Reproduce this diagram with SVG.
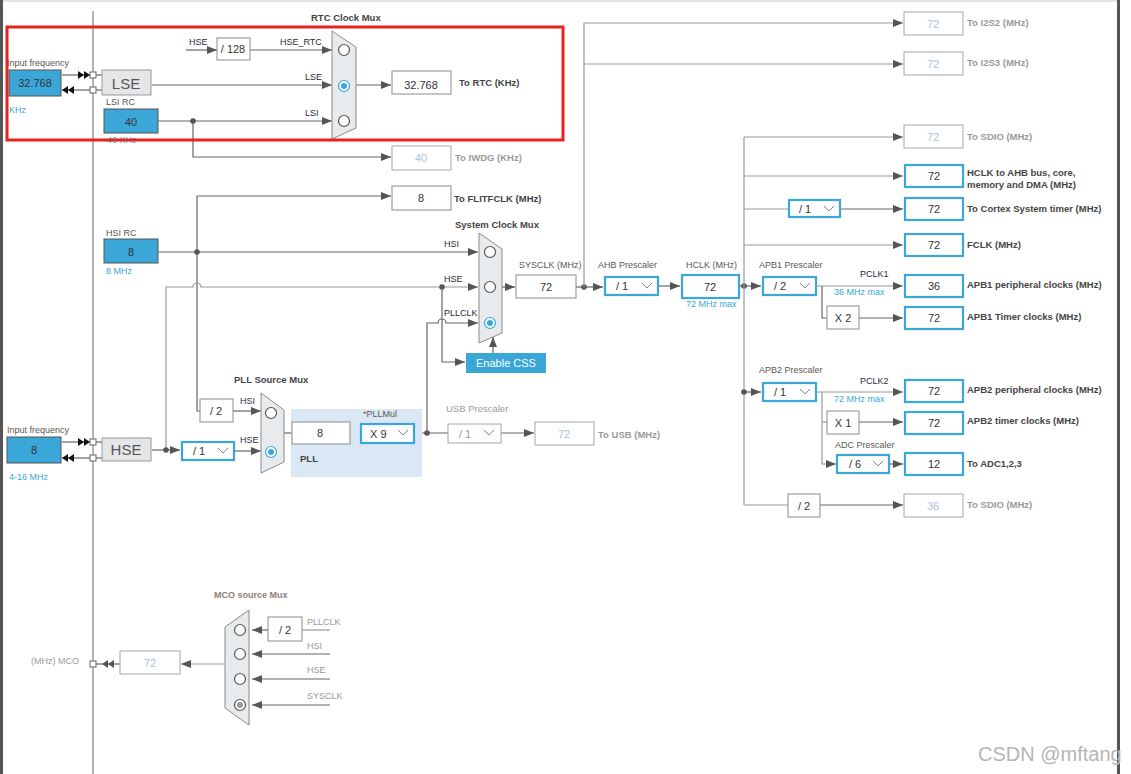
<svg xmlns="http://www.w3.org/2000/svg" width="1131" height="774" viewBox="0 0 1131 774">
<defs>
<marker id="ah" markerWidth="10" markerHeight="8" refX="10" refY="4" orient="auto" markerUnits="userSpaceOnUse"><path d="M0,0 L10,4 L0,8 z" fill="#555"/></marker>
</defs>
<style>
.ln{stroke:#666;stroke-width:1.2;fill:none}
.lnd{stroke:#999;stroke-width:1.2;fill:none}
.t{font-family:"Liberation Sans",Arial,sans-serif}
.lbl{font-size:9px;fill:#5c5753}
.sig{font-size:9px;fill:#1f2b3a}
.b{font-weight:bold;font-size:9.5px;fill:#444}
.bd{font-weight:bold;font-size:9.5px;fill:#9a9a9a}
.num{font-size:11px;fill:#333;text-anchor:middle}
.numd{font-size:11px;fill:#aec3dc;text-anchor:middle}
.box{fill:#fff;stroke:#8c8c8c;stroke-width:1}
.boxd{fill:#fff;stroke:#a6a6a6;stroke-width:1}
.bbox{fill:#fff;stroke:#3aa7d8;stroke-width:2.2}
.blue{fill:#3aa7d8;stroke:#555;stroke-width:1}
.gbox{fill:#e4e6e8;stroke:#999;stroke-width:1}
.blt{font-size:9px;fill:#3aa7d8}
.mux{fill:#e8ebee;stroke:#8a8a8a;stroke-width:1}
.c{fill:#fff;stroke:#555;stroke-width:1.2}
.cs{fill:#fff;stroke:#3aa7d8;stroke-width:1.2}
.dot{fill:#555}
.chev{fill:none;stroke:#888;stroke-width:1}
.dbl{fill:#111}
.sq{fill:#fff;stroke:#666;stroke-width:1}
</style>
<rect width="1131" height="774" fill="#fff"/>
<g id="frame">
<rect x="0" y="0" width="1120" height="2" fill="#e2e2e2"/>
<rect x="0" y="0" width="3" height="774" fill="#555"/>
<rect x="1117" y="0" width="3" height="774" fill="#555"/>
<line x1="93" y1="11" x2="93" y2="774" stroke="#666" stroke-width="1"/>
</g>

<g id="connectors">
<line class="ln" x1="62" y1="75" x2="90" y2="75" stroke="#222"/>
<polygon class="dbl" points="78,71 84,75 78,79"/><polygon class="dbl" points="84,71 90,75 84,79"/>
<line class="ln" x1="62" y1="90" x2="90" y2="90" stroke="#222"/>
<polygon class="dbl" points="68,86 62,90 68,94"/><polygon class="dbl" points="74,86 68,90 74,94"/>
<line class="ln" x1="96" y1="75" x2="102" y2="75"/>
<line class="ln" x1="96" y1="90" x2="102" y2="90"/>
<line class="ln" x1="186" y1="50" x2="217" y2="50" marker-end="url(#ah)"/>
<line class="ln" x1="250" y1="50" x2="332" y2="50" marker-end="url(#ah)"/>
<line class="ln" x1="152" y1="85" x2="332" y2="85" marker-end="url(#ah)"/>
<line class="ln" x1="158" y1="121" x2="332" y2="121" marker-end="url(#ah)"/>
<path class="ln" d="M193,121 V157 H391" marker-end="url(#ah)"/>
<circle class="dot" cx="193" cy="121" r="2.8"/>
<line class="ln" x1="356" y1="85" x2="391" y2="85" marker-end="url(#ah)"/>
<line class="ln" x1="158" y1="252" x2="478" y2="252" marker-end="url(#ah)"/>
<path class="ln" d="M197,252 V196 H391" marker-end="url(#ah)"/>
<path class="ln" d="M197,252 V411 H200"/>
<circle class="dot" cx="197" cy="252" r="2.8"/>
<line class="ln" x1="233" y1="411" x2="261" y2="411" marker-end="url(#ah)"/>
<line class="ln" x1="152" y1="450" x2="180" y2="450" marker-end="url(#ah)"/>
<path class="lnd" d="M166,450 V287 H193 A4,4 0 0 1 201,287 H478" marker-end="url(#ah)"/>
<circle class="dot" cx="166" cy="450" r="2.8"/>
<circle class="dot" cx="442" cy="287" r="2.8"/>
<path class="ln" d="M442,287 V362 H465" marker-end="url(#ah)"/>
<line class="ln" x1="234" y1="451" x2="261" y2="451" marker-end="url(#ah)"/>
<line class="ln" x1="284" y1="433" x2="291" y2="433"/>
<line class="ln" x1="350" y1="433" x2="361" y2="433"/>
<line class="ln" x1="414" y1="433" x2="448" y2="433"/>
<circle class="dot" cx="427" cy="433" r="2.8"/>
<path class="ln" d="M427,433 V323 H438 A4,4 0 0 1 446,323 H478" marker-end="url(#ah)"/>
<line class="ln" x1="501" y1="433" x2="534" y2="433" marker-end="url(#ah)"/>
<line class="ln" x1="493" y1="353" x2="493" y2="337" marker-end="url(#ah)"/>
<line class="ln" x1="502" y1="287" x2="515" y2="287" marker-end="url(#ah)"/>
<line class="ln" x1="576" y1="287" x2="603" y2="287" marker-end="url(#ah)"/>
<circle class="dot" cx="584" cy="287" r="2.8"/>
<path class="lnd" d="M584,287 V23 H903" marker-end="url(#ah)"/>
<line class="lnd" x1="584" y1="64" x2="903" y2="64" marker-end="url(#ah)"/>
<line class="ln" x1="658" y1="286" x2="680" y2="286" marker-end="url(#ah)"/>
<line class="ln" x1="739" y1="286" x2="761" y2="286" marker-end="url(#ah)"/>
<circle class="dot" cx="744" cy="286" r="2.8"/>
<line class="lnd" x1="744" y1="137" x2="744" y2="505"/>
<line class="lnd" x1="744" y1="137" x2="903" y2="137" marker-end="url(#ah)"/>
<line class="lnd" x1="744" y1="176" x2="903" y2="176" marker-end="url(#ah)"/>
<line class="lnd" x1="744" y1="209" x2="788" y2="209"/>
<line class="ln" x1="840" y1="209" x2="903" y2="209" marker-end="url(#ah)"/>
<line class="lnd" x1="744" y1="245" x2="903" y2="245" marker-end="url(#ah)"/>
<line class="ln" x1="744" y1="392" x2="761" y2="392" marker-end="url(#ah)"/>
<circle class="dot" cx="744" cy="392" r="2.8"/>
<line class="lnd" x1="744" y1="505" x2="788" y2="505"/>
<line class="ln" x1="820" y1="505" x2="903" y2="505" marker-end="url(#ah)"/>
<line class="lnd" x1="816" y1="286" x2="903" y2="286" marker-end="url(#ah)"/>
<path class="ln" d="M822,286 V318 H827"/>
<line class="ln" x1="859" y1="318" x2="903" y2="318" marker-end="url(#ah)"/>
<line class="lnd" x1="816" y1="392" x2="903" y2="392" marker-end="url(#ah)"/>
<path class="lnd" d="M822,392 V464 H836" marker-end="url(#ah)"/>
<line class="lnd" x1="822" y1="422" x2="827" y2="422"/>
<line class="ln" x1="859" y1="422" x2="903" y2="422" marker-end="url(#ah)"/>
<line class="ln" x1="889" y1="464" x2="903" y2="464" marker-end="url(#ah)"/>
<line class="ln" x1="62" y1="442" x2="90" y2="442" stroke="#222"/>
<polygon class="dbl" points="78,438 84,442 78,446"/><polygon class="dbl" points="84,438 90,442 84,446"/>
<line class="ln" x1="62" y1="458" x2="90" y2="458" stroke="#222"/>
<polygon class="dbl" points="68,454 62,458 68,462"/><polygon class="dbl" points="74,454 68,458 74,462"/>
<line class="ln" x1="96" y1="442" x2="102" y2="442"/>
<line class="ln" x1="96" y1="458" x2="102" y2="458"/>
<line class="lnd" x1="330" y1="630" x2="302" y2="630"/>
<line class="ln" x1="268" y1="630" x2="252" y2="630" marker-end="url(#ah)"/>
<line class="ln" x1="330" y1="654" x2="252" y2="654" marker-end="url(#ah)"/>
<line class="ln" x1="330" y1="679" x2="252" y2="679" marker-end="url(#ah)"/>
<line class="ln" x1="330" y1="705" x2="252" y2="705" marker-end="url(#ah)"/>
<line class="lnd" x1="225" y1="664" x2="181" y2="664" marker-end="url(#ah)"/>
<line class="ln" x1="120" y1="664" x2="96" y2="664"/>
<polygon fill="#555" points="108,660 102,664 108,668"/><polygon fill="#555" points="114,660 108,664 114,668"/>
</g>

<g class="t">
<g id="pins">
<rect class="sq" x="90" y="72" width="6" height="6"/>
<rect class="sq" x="90" y="87" width="6" height="6"/>
<rect class="sq" x="90" y="439" width="6" height="6"/>
<rect class="sq" x="90" y="455" width="6" height="6"/>
<rect class="sq" x="90" y="661" width="6" height="6"/>
</g>
<g id="lse-input">
<text class="lbl" x="7" y="66">Input frequency</text>
<rect class="blue" x="9" y="70" width="52" height="26"/>
<text class="num" x="35" y="87">32.768</text>
<text class="blt" x="9" y="113">KHz</text>
</g>
<g id="lse">
<rect class="gbox" x="102" y="70" width="49" height="25"/>
<text x="126" y="89" text-anchor="middle" font-size="15" fill="#555">LSE</text>
</g>
<g id="lsi">
<text class="lbl" x="106" y="105">LSI RC</text>
<rect class="blue" x="104" y="109" width="54" height="24"/>
<text class="num" x="131" y="126">40</text>
<text class="blt" x="107" y="143">40 KHz</text>
</g>
<g id="div128">
<text class="sig" x="189" y="45">HSE</text>
<rect class="box" x="217" y="38" width="33" height="22"/>
<text class="num" x="233" y="53">/ 128</text>
<text class="sig" x="280" y="45">HSE_RTC</text>
<text class="sig" x="305" y="80">LSE</text>
<text class="sig" x="305" y="116">LSI</text>
</g>
<g id="rtc-mux">
<text class="b" x="311" y="21">RTC Clock Mux</text>
<polygon class="mux" points="332,31 356,47 356,128 332,139"/>
<circle class="c" cx="344" cy="50" r="5.5"/>
<circle class="cs" cx="344" cy="86" r="5.5"/><circle cx="344" cy="86" r="3" fill="#3aa7d8"/>
<circle class="c" cx="344" cy="121" r="5.5"/>
</g>
<g id="rtc-out">
<rect class="box" x="392" y="71" width="59" height="23"/>
<text class="num" x="421" y="89">32.768</text>
<text class="b" x="459" y="86">To RTC (KHz)</text>
</g>
<g id="iwdg">
<rect class="boxd" x="392" y="146" width="59" height="24"/>
<text class="numd" x="421" y="162">40</text>
<text class="bd" x="455" y="161">To IWDG (KHz)</text>
</g>
<g id="flit">
<rect class="box" x="392" y="186" width="59" height="24"/>
<text class="num" x="421" y="202">8</text>
<text class="b" x="454" y="202">To FLITFCLK (MHz)</text>
</g>
<g id="hsi">
<text class="lbl" x="106" y="236">HSI RC</text>
<rect class="blue" x="104" y="239" width="54" height="24"/>
<text class="num" x="131" y="256">8</text>
<text class="blt" x="106" y="274">8 MHz</text>
</g>
<g id="sys-mux">
<text class="b" x="455" y="228">System Clock Mux</text>
<text class="sig" x="444" y="247">HSI</text>
<text class="sig" x="444" y="282">HSE</text>
<text class="sig" x="444" y="316">PLLCLK</text>
<polygon class="mux" points="479,233 502,249 502,333 479,343"/>
<circle class="c" cx="490" cy="252" r="5.5"/>
<circle class="c" cx="490" cy="287" r="5.5"/>
<circle class="cs" cx="490" cy="323" r="5.5"/><circle cx="490" cy="323" r="3" fill="#3aa7d8"/>
</g>
<g id="css">
<rect x="466" y="353" width="80" height="20" fill="#3aa7d8"/>
<text x="506" y="367" text-anchor="middle" font-size="11" fill="#fff">Enable CSS</text>
</g>
<g id="sysclk">
<text class="lbl" x="519" y="268">SYSCLK (MHz)</text>
<rect class="box" x="516" y="275" width="60" height="23"/>
<text class="num" x="546" y="291">72</text>
</g>
<g id="ahb">
<text class="lbl" x="598" y="268">AHB Prescaler</text>
<rect class="bbox" x="605" y="277" width="53" height="18"/>
<text x="616" y="290" font-size="11" fill="#333">/ 1</text>
<polyline class="chev" points="642,283 647,288 652,283"/>
</g>
<g id="hclk">
<text class="lbl" x="686" y="268">HCLK (MHz)</text>
<rect class="bbox" x="682" y="275" width="57" height="23"/>
<text class="num" x="710" y="291">72</text>
<text class="blt" x="686" y="307">72 MHz max</text>
</g>
<g id="apb1">
<text class="lbl" x="759" y="268">APB1 Prescaler</text>
<rect class="bbox" x="763" y="277" width="53" height="18"/>
<text x="774" y="290" font-size="11" fill="#333">/ 2</text>
<polyline class="chev" points="800,283 805,288 810,283"/>
<text class="sig" x="860" y="277">PCLK1</text>
<text class="blt" x="834" y="295">36 MHz max</text>
</g>
<g id="x2">
<rect class="box" x="827" y="306" width="32" height="23"/>
<text class="num" x="843" y="322">X 2</text>
</g>
<g id="apb2">
<text class="lbl" x="759" y="373">APB2 Prescaler</text>
<rect class="bbox" x="763" y="383" width="53" height="18"/>
<text x="774" y="396" font-size="11" fill="#333">/ 1</text>
<polyline class="chev" points="800,389 805,394 810,389"/>
<text class="sig" x="860" y="384">PCLK2</text>
<text class="blt" x="834" y="402">72 MHz max</text>
</g>
<g id="x1">
<rect class="box" x="827" y="411" width="32" height="23"/>
<text class="num" x="843" y="427">X 1</text>
</g>
<g id="adc">
<text class="lbl" x="835" y="448">ADC Prescaler</text>
<rect class="bbox" x="837" y="455" width="52" height="18"/>
<text x="849" y="468" font-size="11" fill="#333">/ 6</text>
<polyline class="chev" points="873,461 878,466 883,461"/>
</g>
<g id="cortex-div">
<rect class="bbox" x="789" y="200" width="51" height="17"/>
<text x="799" y="213" font-size="11" fill="#333">/ 1</text>
<polyline class="chev" points="824,206 829,211 834,206"/>
</g>
<g id="sdio-div">
<rect class="box" x="788" y="494" width="32" height="23"/>
<text class="num" x="804" y="510">/ 2</text>
</g>
<g id="i2s2"><rect class="boxd" x="904" y="12" width="59" height="23"/><text class="numd" x="933" y="28">72</text><text class="bd" x="967" y="26">To I2S2 (MHz)</text></g>
<g id="i2s3"><rect class="boxd" x="904" y="52" width="59" height="23"/><text class="numd" x="933" y="68">72</text><text class="bd" x="967" y="66">To I2S3 (MHz)</text></g>
<g id="sdio1"><rect class="boxd" x="904" y="125" width="59" height="23"/><text class="numd" x="933" y="141">72</text><text class="bd" x="967" y="140">To SDIO (MHz)</text></g>
<g id="hclk-ahb"><rect class="bbox" x="905" y="165" width="58" height="22"/><text class="num" x="934" y="180">72</text><text class="b" x="967" y="176">HCLK to AHB bus, core,</text><text class="b" x="967" y="188">memory and DMA (MHz)</text></g>
<g id="cortex"><rect class="bbox" x="905" y="198" width="58" height="22"/><text class="num" x="934" y="213">72</text><text class="b" x="967" y="212">To Cortex System timer (MHz)</text></g>
<g id="fclk"><rect class="bbox" x="905" y="234" width="58" height="22"/><text class="num" x="934" y="249">72</text><text class="b" x="967" y="248">FCLK (MHz)</text></g>
<g id="apb1p"><rect class="bbox" x="905" y="275" width="58" height="22"/><text class="num" x="934" y="290">36</text><text class="b" x="967" y="288">APB1 peripheral clocks (MHz)</text></g>
<g id="apb1t"><rect class="bbox" x="905" y="307" width="58" height="22"/><text class="num" x="934" y="322">72</text><text class="b" x="967" y="320">APB1 Timer clocks (MHz)</text></g>
<g id="apb2p"><rect class="bbox" x="905" y="380" width="58" height="22"/><text class="num" x="934" y="395">72</text><text class="b" x="967" y="393">APB2 peripheral clocks (MHz)</text></g>
<g id="apb2t"><rect class="bbox" x="905" y="412" width="58" height="22"/><text class="num" x="934" y="427">72</text><text class="b" x="967" y="424">APB2 timer clocks (MHz)</text></g>
<g id="adcout"><rect class="bbox" x="905" y="453" width="58" height="22"/><text class="num" x="934" y="468">12</text><text class="b" x="967" y="467">To ADC1,2,3</text></g>
<g id="sdio2"><rect class="boxd" x="904" y="494" width="59" height="23"/><text class="numd" x="933" y="510">36</text><text class="bd" x="967" y="508">To SDIO (MHz)</text></g>
<g id="hse-input">
<text class="lbl" x="7" y="433">Input frequency</text>
<rect class="blue" x="7" y="437" width="54" height="26"/>
<text class="num" x="34" y="454">8</text>
<text class="blt" x="9" y="480">4-16 MHz</text>
</g>
<g id="hse">
<rect class="gbox" x="102" y="438" width="49" height="23"/>
<text x="126" y="455" text-anchor="middle" font-size="15" fill="#555">HSE</text>
</g>
<g id="hse-div">
<rect class="bbox" x="182" y="442" width="52" height="18"/>
<text x="193" y="455" font-size="11" fill="#333">/ 1</text>
<polyline class="chev" points="218,448 223,453 228,448"/>
</g>
<g id="hsi-div2">
<rect class="box" x="200" y="399" width="33" height="23"/>
<text class="num" x="216" y="415">/ 2</text>
</g>
<g id="pll-mux">
<text class="b" x="234" y="383">PLL Source Mux</text>
<text class="sig" x="240" y="404">HSI</text>
<text class="sig" x="240" y="443">HSE</text>
<polygon class="mux" points="261,393 284,410 284,462 261,473"/>
<circle class="c" cx="271" cy="413" r="5.5"/>
<circle class="cs" cx="271" cy="452" r="5.5"/><circle cx="271" cy="452" r="3" fill="#3aa7d8"/>
</g>
<g id="pll">
<rect x="291" y="409" width="131" height="68" fill="#dae8f5"/>
<rect class="box" x="292" y="422" width="58" height="22"/>
<text class="num" x="320" y="437">8</text>
<text class="lbl" x="363" y="417">*PLLMul</text>
<rect class="bbox" x="361" y="424" width="53" height="19"/>
<text x="370" y="438" font-size="11" fill="#333">X 9</text>
<polyline class="chev" points="398,430 403,435 408,430"/>
<text x="300" y="462" font-size="9.5" font-weight="bold" fill="#444">PLL</text>
</g>
<g id="usb">
<text x="446" y="412" font-size="9.5" fill="#9a9a9a">USB Prescaler</text>
<rect class="boxd" x="448" y="424" width="53" height="19"/>
<text x="459" y="438" font-size="11" fill="#9a9a9a">/ 1</text>
<polyline class="chev" points="484,430 489,435 494,430"/>
<rect class="boxd" x="535" y="422" width="59" height="23"/>
<text class="numd" x="564" y="438">72</text>
<text class="bd" x="598" y="438">To USB (MHz)</text>
</g>
<g id="mco-mux">
<text x="214" y="598" font-size="9" font-weight="bold" fill="#8c817b">MCO source Mux</text>
<polygon class="mux" points="225,627 249,610 249,725 225,708"/>
<circle class="c" cx="240" cy="630" r="5.5" stroke="#999"/>
<circle class="c" cx="240" cy="654" r="5.5" stroke="#999"/>
<circle class="c" cx="240" cy="679" r="5.5" stroke="#999"/>
<circle class="c" cx="240" cy="705" r="5.5" stroke="#999"/><circle cx="240" cy="705" r="3" fill="#999"/>
<rect class="box" x="268" y="617" width="34" height="24"/>
<text class="num" x="285" y="634">/ 2</text>
<text x="307" y="625" font-size="9" fill="#999">PLLCLK</text>
<text x="307" y="649" font-size="9" fill="#999">HSI</text>
<text x="307" y="673" font-size="9" fill="#999">HSE</text>
<text x="307" y="699" font-size="9" fill="#999">SYSCLK</text>
</g>
<g id="mco-out">
<rect class="boxd" x="120" y="651" width="60" height="23"/>
<text class="numd" x="150" y="667">72</text>
<text x="31" y="664" font-size="9" fill="#9a9a9a">(MHz) MCO</text>
</g>
</g>

<rect x="7" y="27" width="556" height="113" fill="none" stroke="#e8231f" stroke-width="3"/>
<text x="978" y="761" font-family="'Liberation Sans',Arial,sans-serif" font-size="20" fill="#b5b5b5">CSDN @mftang</text>
</svg>
